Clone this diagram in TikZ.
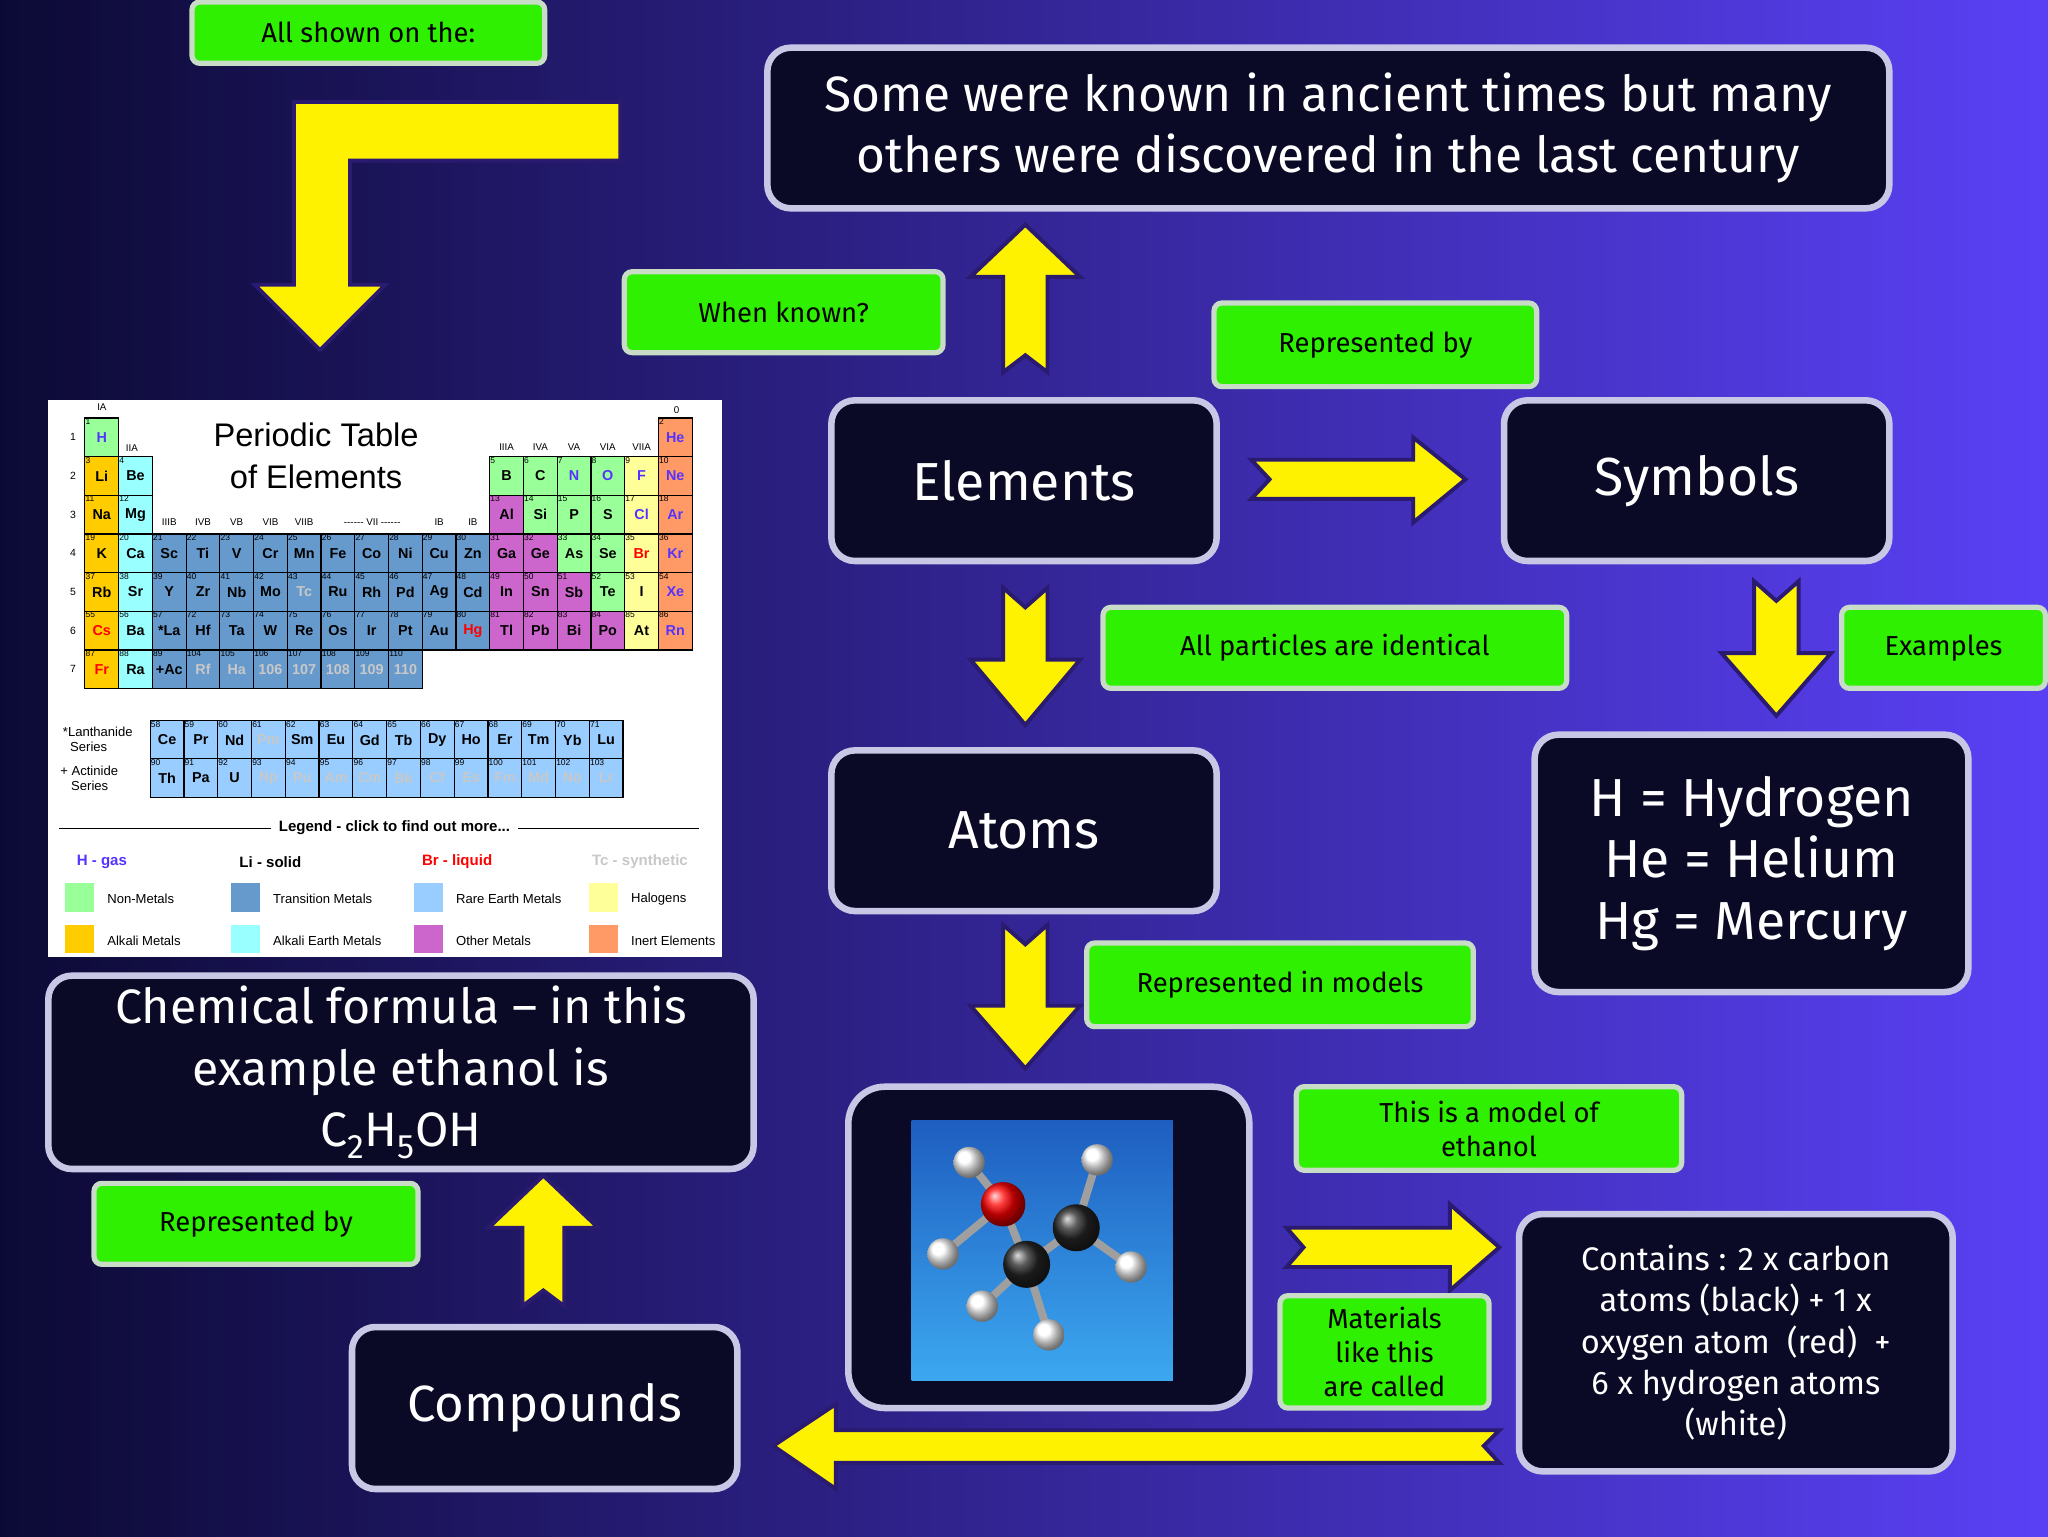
\documentclass[tikz,border=0pt]{standalone}
\usepackage{fontspec}
\setmainfont{Fira Sans}
\newfontfamily\tabfont{Liberation Sans}
\definecolor{bgL}{HTML}{0C0A35}
\definecolor{bgR}{HTML}{5A40F5}
\definecolor{boxfill}{HTML}{0A0A26}
\definecolor{boxline}{HTML}{C8C8E6}
\definecolor{lab}{HTML}{2EF000}
\definecolor{labline}{HTML}{C8DCC8}
\definecolor{arrline}{HTML}{2A1A70}
\definecolor{nm}{HTML}{99FF99}
\definecolor{alk}{HTML}{FFCC00}
\definecolor{ae}{HTML}{99FFFF}
\definecolor{tr}{HTML}{6699CC}
\definecolor{re}{HTML}{99CCFF}
\definecolor{hal}{HTML}{FFFF99}
\definecolor{om}{HTML}{CC66CC}
\definecolor{ine}{HTML}{FF9966}
\definecolor{gas}{HTML}{5533FF}
\definecolor{liq}{HTML}{FF0000}
\definecolor{syn}{HTML}{C8C8C8}
\definecolor{sol}{HTML}{000000}
\definecolor{picA}{HTML}{1E5EC0}
\definecolor{picB}{HTML}{3CA8F0}
\tikzset{
  bigbox/.style={draw=boxline,line width=5pt,fill=boxfill,rounded corners=18pt,text=white,align=center,inner sep=0pt},
  lbl/.style={draw=labline,line width=4pt,fill=lab,rounded corners=6pt,text=black,align=center,inner sep=0pt,font=\fontsize{21}{25}\selectfont},
  yarrow/.style={fill=yellow,draw=arrline,line width=3pt,line join=miter},
  cell/.style={draw=black,line width=0.9pt,minimum width=25.83pt,minimum height=29.6pt,inner sep=0pt,font=\tabfont\bfseries\fontsize{11}{11}\selectfont},
  num/.style={font=\tabfont\fontsize{6.5}{6.5}\selectfont,anchor=north west,inner sep=0.8pt},
  tlab/.style={font=\tabfont\fontsize{7.5}{7.5}\selectfont,inner sep=0pt},
  legtxt/.style={font=\tabfont\bfseries\fontsize{11.5}{12}\selectfont,inner sep=0pt},
  legsw/.style={anchor=west,font=\tabfont\fontsize{10}{10}\selectfont,inner sep=0pt}
}
\newcommand\el[6]{%
  \node[cell,fill=#5,text=#6] (e#3) at ({65+(#1-0.5)*25.83},{320+(#2-0.5)*29.6}) {\raisebox{-3pt}{#4}};
  \node[num] at (e#3.north west) {#3};}
\newcommand\lel[6]{%
  \node[cell,fill=#5,text=#6] (e#3) at ({115+(#1-0.5)*25.86},{552+(#2-0.5)*29}) {\raisebox{-3pt}{#4}};
  \node[num] at (e#3.north west) {#3};}
\begin{document}
\begin{tikzpicture}[x=1pt,y=-1pt]
\useasboundingbox (0,0) rectangle (1568,1176);
\shade[left color=bgL,right color=bgR] (0,0) rectangle (1568,1176);

\draw[yarrow] (475,78)--(475,123)--(268,123)--(268,218)--(295,218)--(245,268)--(195,218)--(225,218)--(225,78)--cycle;
\draw[yarrow] (958,352)--(1082,352)--(1082,335)--(1122,367)--(1082,400)--(1082,382)--(958,382)--(972,367)--cycle;
\draw[yarrow] (785,172)--(827,212)--(802,212)--(802,285)--(785,272)--(768,285)--(768,212)--(743,212)--cycle;
\draw[yarrow] (768,450)--(785,465)--(802,450)--(802,505)--(827,505)--(785,555)--(743,505)--(768,505)--cycle;
\draw[yarrow] (768,708)--(785,723)--(802,708)--(802,770)--(827,770)--(785,818)--(743,770)--(768,770)--cycle;
\draw[yarrow] (1343,445)--(1360,460)--(1377,445)--(1377,500)--(1402,500)--(1360,548)--(1318,500)--(1343,500)--cycle;
\draw[yarrow] (985,940)--(1110,940)--(1110,922)--(1148,955)--(1110,988)--(1110,970)--(985,970)--(998,955)--cycle;
\draw[yarrow] (1148,1095)--(640,1095)--(640,1075)--(592,1107)--(640,1140)--(640,1120)--(1148,1120)--(1136,1107)--cycle;
\draw[yarrow] (416,900)--(458,940)--(432,940)--(432,1000)--(416,988)--(400,1000)--(400,940)--(374,940)--cycle;

\node[bigbox,minimum width=859pt,minimum height=123pt,font=\fontsize{38}{47}\selectfont] (known) at (1017,98) {Some were known in ancient times but many\\others were discovered in the last century};
\node[bigbox,minimum width=295pt,minimum height=123pt,font=\fontsize{41}{47}\selectfont] (elements) at (784,368) {Elements};
\node[bigbox,minimum width=295pt,minimum height=123pt,font=\fontsize{41}{47}\selectfont] (symbols) at (1299,368) {Symbols};
\node[bigbox,minimum width=295pt,minimum height=123pt,font=\fontsize{41}{47}\selectfont] (atoms) at (784,636) {Atoms};
\node[bigbox,minimum width=332pt,minimum height=197pt,font=\fontsize{41}{47}\selectfont] (hyd) at (1341,661) {H = Hydrogen\\He = Helium\\Hg = Mercury};
\node[bigbox,minimum width=540pt,minimum height=148pt,font=\fontsize{37}{47}\selectfont] (formula) at (307,821) {Chemical formula -- in this\\example ethanol is\\C\textsubscript{2}H\textsubscript{5}OH};
\node[bigbox,minimum width=307pt,minimum height=246pt,rounded corners=28pt] (model) at (803,955) {};
\node[bigbox,minimum width=332pt,minimum height=197pt,font=\fontsize{25}{31.5}\selectfont] (contains) at (1329,1028) {Contains : 2 x carbon\\atoms (black) + 1 x\\oxygen atom~ (red)~ +\\6 x hydrogen atoms\\(white)};
\node[bigbox,minimum width=295pt,minimum height=124pt,font=\fontsize{39}{47}\selectfont] (compounds) at (417,1078) {Compounds};

\node[lbl,minimum width=270pt,minimum height=47pt] (l1) at (282,25) {All shown on the:};
\node[lbl,minimum width=244pt,minimum height=62pt] (l2) at (600,239) {When known?};
\node[lbl,minimum width=247pt,minimum height=64pt] (l3) at (1053,264) {Represented by};
\node[lbl,minimum width=355pt,minimum height=62pt] (l4) at (1022,496) {All particles are identical};
\node[lbl,minimum width=156pt,minimum height=62pt] (l5) at (1488,496) {Examples};
\node[lbl,minimum width=296pt,minimum height=64pt] (l6) at (980,754) {Represented in models};
\node[lbl,minimum width=295pt,minimum height=64pt,font=\fontsize{21}{26}\selectfont] (l7) at (1140,864) {This is a model of\\ethanol};
\node[lbl,minimum width=160pt,minimum height=86pt,font=\fontsize{21}{26}\selectfont] (l8) at (1060,1035) {Materials\\like this\\are called};
\node[lbl,minimum width=248pt,minimum height=62pt] (l9) at (196,937) {Represented by};

\shade[top color=picA,bottom color=picB] (698,858) rectangle (898,1057);
\coordinate (c1) at (786,968);
\coordinate (c2) at (824,940);
\coordinate (o) at (768,922);
\draw[gray!75,line width=6pt] (c1)--(c2) (c1)--(o) (o)--(742,890) (c1)--(752,1000) (c1)--(803,1022) (c2)--(840,888) (c2)--(866,970) (o)--(722,960);
\foreach \p in {(742,890),(722,960),(752,1000),(803,1022),(840,888),(866,970)}{\shade[ball color=white] \p circle (12pt);}
\shade[ball color=red] (o) circle (17pt);
\shade[ball color=black!85] (c1) circle (18pt);
\shade[ball color=black!85] (c2) circle (18pt);

\fill[white] (37,306) rectangle (553,733);
\node[font=\tabfont\fontsize{25}{32}\selectfont,align=center] (ptitle) at (242,349) {Periodic Table\\of Elements};
\node[tlab] at (78,312) {IA};
\node[tlab] at (518,314) {0};
\node[tlab] at (101,343) {IIA};
\foreach \t [count=\i from 13] in {IIIA,IVA,VA,VIA,VIIA}{\node[tlab] at ({65+(\i-0.5)*25.83},342) {\t};}
\foreach \t [count=\i from 3] in {IIIB,IVB,VB,VIB,VIIB}{\node[tlab] at ({65+(\i-0.5)*25.83},400) {\t};}
\node[tlab] at (285,400) {------ VII ------};
\node[tlab] at ({65+10.5*25.83},400) {IB};
\node[tlab] at ({65+11.5*25.83},400) {IB};
\foreach \r in {1,...,7}{\node[tlab,font=\tabfont\fontsize{8}{8}\selectfont] at (56,{320+(\r-0.5)*29.6}) {\r};}
\el{1}{1}{1}{H}{nm}{gas}
\el{18}{1}{2}{He}{ine}{gas}
\el{1}{2}{3}{Li}{alk}{sol}\el{2}{2}{4}{Be}{ae}{sol}
\el{13}{2}{5}{B}{nm}{sol}\el{14}{2}{6}{C}{nm}{sol}\el{15}{2}{7}{N}{nm}{gas}\el{16}{2}{8}{O}{nm}{gas}\el{17}{2}{9}{F}{hal}{gas}\el{18}{2}{10}{Ne}{ine}{gas}
\el{1}{3}{11}{Na}{alk}{sol}\el{2}{3}{12}{Mg}{ae}{sol}
\el{13}{3}{13}{Al}{om}{sol}\el{14}{3}{14}{Si}{nm}{sol}\el{15}{3}{15}{P}{nm}{sol}\el{16}{3}{16}{S}{nm}{sol}\el{17}{3}{17}{Cl}{hal}{gas}\el{18}{3}{18}{Ar}{ine}{gas}
\el{1}{4}{19}{K}{alk}{sol}\el{2}{4}{20}{Ca}{ae}{sol}
\foreach \s [count=\i from 3] in {Sc,Ti,V,Cr,Mn,Fe,Co,Ni,Cu,Zn}{\pgfmathtruncatemacro\n{\i+18}\el{\i}{4}{\n}{\s}{tr}{sol}}
\el{13}{4}{31}{Ga}{om}{sol}\el{14}{4}{32}{Ge}{om}{sol}\el{15}{4}{33}{As}{nm}{sol}\el{16}{4}{34}{Se}{nm}{sol}\el{17}{4}{35}{Br}{hal}{liq}\el{18}{4}{36}{Kr}{ine}{gas}
\el{1}{5}{37}{Rb}{alk}{sol}\el{2}{5}{38}{Sr}{ae}{sol}
\foreach \s [count=\i from 3] in {Y,Zr,Nb,Mo,Tc,Ru,Rh,Pd,Ag,Cd}{\pgfmathtruncatemacro\n{\i+36}\ifnum\n=43 \el{\i}{5}{\n}{\s}{tr}{syn}\else\el{\i}{5}{\n}{\s}{tr}{sol}\fi}
\el{13}{5}{49}{In}{om}{sol}\el{14}{5}{50}{Sn}{om}{sol}\el{15}{5}{51}{Sb}{om}{sol}\el{16}{5}{52}{Te}{nm}{sol}\el{17}{5}{53}{I}{hal}{sol}\el{18}{5}{54}{Xe}{ine}{gas}
\el{1}{6}{55}{Cs}{alk}{liq}\el{2}{6}{56}{Ba}{ae}{sol}\el{3}{6}{57}{*La}{tr}{sol}
\foreach \s [count=\i from 4] in {Hf,Ta,W,Re,Os,Ir,Pt,Au}{\pgfmathtruncatemacro\n{\i+68}\el{\i}{6}{\n}{\s}{tr}{sol}}
\el{12}{6}{80}{Hg}{tr}{liq}
\el{13}{6}{81}{Tl}{om}{sol}\el{14}{6}{82}{Pb}{om}{sol}\el{15}{6}{83}{Bi}{om}{sol}\el{16}{6}{84}{Po}{om}{sol}\el{17}{6}{85}{At}{hal}{sol}\el{18}{6}{86}{Rn}{ine}{gas}
\el{1}{7}{87}{Fr}{alk}{liq}\el{2}{7}{88}{Ra}{ae}{sol}\el{3}{7}{89}{+Ac}{tr}{sol}
\foreach \s [count=\i from 4] in {Rf,Ha,106,107,108,109,110}{\pgfmathtruncatemacro\n{\i+100}\el{\i}{7}{\n}{\s}{tr}{syn}}
\foreach \s [count=\i from 1] in {Ce,Pr,Nd,Pm,Sm,Eu,Gd,Tb,Dy,Ho,Er,Tm,Yb,Lu}{\pgfmathtruncatemacro\n{\i+57}\ifnum\n=61 \lel{\i}{1}{\n}{\s}{re}{syn}\else\lel{\i}{1}{\n}{\s}{re}{sol}\fi}
\foreach \s [count=\i from 1] in {Th,Pa,U,Np,Pu,Am,Cm,Bk,Cf,Es,Fm,Md,No,Lr}{\pgfmathtruncatemacro\n{\i+89}\ifnum\n<93 \lel{\i}{2}{\n}{\s}{re}{sol}\else\lel{\i}{2}{\n}{\s}{re}{syn}\fi}
\node[tlab,font=\tabfont\fontsize{10}{12}\selectfont,align=left,anchor=west] (lanth) at (48,566) {*Lanthanide\\\ \ Series};
\node[tlab,font=\tabfont\fontsize{10}{12}\selectfont,align=left,anchor=west] (act) at (46,596) {+ Actinide\\\ \ \ Series};
\node[legtxt] (leg) at (302,634) {Legend - click to find out more...};
\draw[line width=0.8pt] (45,634)--([xshift=-6pt]leg.west);
\draw[line width=0.8pt] ([xshift=6pt]leg.east) -- (535,634);
\node[legtxt,text=gas] (lg1) at (78,660) {H - gas};
\node[legtxt] (lg2) at (207,660) {Li - solid};
\node[legtxt,text=liq] (lg3) at (350,660) {Br - liquid};
\node[legtxt,text=syn] (lg4) at (490,660) {Tc - synthetic};
\foreach \x/\c/\t in {50/nm/Non-Metals,177/tr/Transition Metals,317/re/Rare Earth Metals,451/hal/Halogens}{
  \fill[\c] (\x,676) rectangle ++(22,22);
  \node[legsw] at (\x+32,688) {\t};}
\foreach \x/\c/\t in {50/alk/Alkali Metals,177/ae/Alkali Earth Metals,317/om/Other Metals,451/ine/Inert Elements}{
  \fill[\c] (\x,708) rectangle ++(22,22);
  \node[legsw] at (\x+32,720) {\t};}
\end{tikzpicture}
\end{document}
